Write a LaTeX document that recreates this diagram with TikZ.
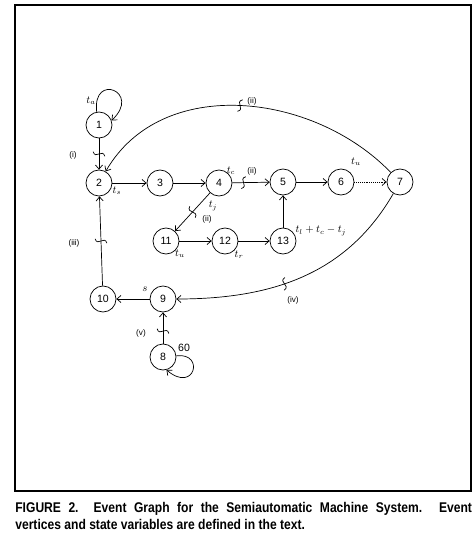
\documentclass[tikz,border=0pt]{standalone}
\usepackage{fontspec}
\setsansfont{Liberation Sans}
\newfontfamily\capfont{Liberation Sans}[FakeStretch=0.86]
\usetikzlibrary{positioning,arrows.meta}
\tikzset{
  squig/.pic = {\draw[-, line width=0.6pt] (-2pt,-5pt) .. controls (5pt,-3pt) and (-5pt,3pt) .. (2pt,5pt);}
}
\begin{document}
\begin{tikzpicture}[x=0.03cm, y=-0.03cm, line width=0.6pt,
  >={Straight Barb[length=3.5pt, width=6pt]},
  ev/.style = {circle, draw, minimum size=0.78cm, inner sep=0pt, font=\sffamily\small},
  lbl/.style = {inner sep=1pt, font=\small},
  cond/.style = {inner sep=1pt, font=\sffamily\scriptsize}]
  \useasboundingbox (0,0) rectangle (474,536);
  \draw[line width=1.2pt] (15,5) rectangle (471,491);

  % event vertices
  \node[ev] (v1) at (99,125) {1};
  \node[ev] (v2) at (99,183) {2};
  \node[ev] (v3) at (160,183) {3};
  \node[ev] (v4) at (219,183) {4};
  \node[ev] (v5) at (283,182) {5};
  \node[ev] (v6) at (341,182) {6};
  \node[ev] (v7) at (400,182) {7};
  \node[ev] (v11) at (166,241) {11};
  \node[ev] (v12) at (225,241) {12};
  \node[ev] (v13) at (283,241) {13};
  \node[ev] (v10) at (103,299) {10};
  \node[ev] (v9) at (163,299) {9};
  \node[ev] (v8) at (163,357) {8};

  % state variables and delays
  \node[lbl] (ta) at (91,101) {$t_a$};
  \node[lbl] (ts) at (117,191) {$t_s$};
  \node[lbl] (tc) at (231,171) {$t_c$};
  \node[lbl] (tj) at (213,206) {$t_j$};
  \node[lbl] (tw) at (180,254) {$t_u$};
  \node[lbl] (tr) at (239,255) {$t_r$};
  \node[lbl, anchor=west] (tsum) at (294,231) {$t_l + t_c - t_j$};
  \node[lbl] (tu) at (356,162) {$t_u$};
  \node[lbl] (s) at (145,289) {$s$};
  \node[lbl, font=\sffamily\small] (d60) at (184,348) {60};

  % conditions
  \node[cond] (ci) at (73,155) {(i)};
  \node[cond] (cii) at (252,171) {(ii)};
  \node[cond] (cij) at (207,219) {(ii)};
  \node[cond] (ciitop) at (252,101) {(ii)};
  \node[cond] (ciii) at (74,243) {(iii)};
  \node[cond] (civ) at (293,300) {(iv)};
  \node[cond] (cv) at (141,333) {(v)};

  % edges
  \draw[->] (v1.100) .. controls (92,72) and (142,92) .. (v1.20);
  \draw[->] (v1) -- pic[pos=.5, sloped]{squig} (v2);
  \draw[->] (v2) -- (v3);
  \draw[->] (v3) -- (v4);
  \draw[->] (v4) -- pic[pos=.3, sloped]{squig} (v5);
  \draw[->] (v5) -- (v6);
  \draw[->, densely dotted] (v6) -- (v7);
  \draw[->] (v4) -- pic[pos=.5, sloped]{squig} (v11);
  \draw[->] (v11) -- (v12);
  \draw[->] (v12) -- (v13);
  \draw[->] (v13) -- (v5);
  \draw[->] (v7) to[out=134, in=60] pic[pos=.5, sloped]{squig} (v2);
  \draw[->] (v7) to[out=-120, in=0] pic[pos=.58, sloped]{squig} (v9);
  \draw[->] (v9) -- (v10);
  \draw[->] (v10) -- pic[pos=.5, sloped]{squig} (v2);
  \draw[->] (v8) -- pic[pos=.4, sloped]{squig} (v9);
  \draw[->] (v8.5) .. controls (205,352) and (195,394) .. (v8.-75);

  \node[anchor=north west, text width=13.7cm, align=justify, inner sep=0pt,
    font=\capfont\bfseries\fontsize{12}{14.5}\selectfont] (cap) at (15,502)
    {FIGURE 2.\ \ Event Graph for the Semiautomatic Machine System. Event\linebreak
     vertices and state variables are defined in the text.};
\end{tikzpicture}
\end{document}
